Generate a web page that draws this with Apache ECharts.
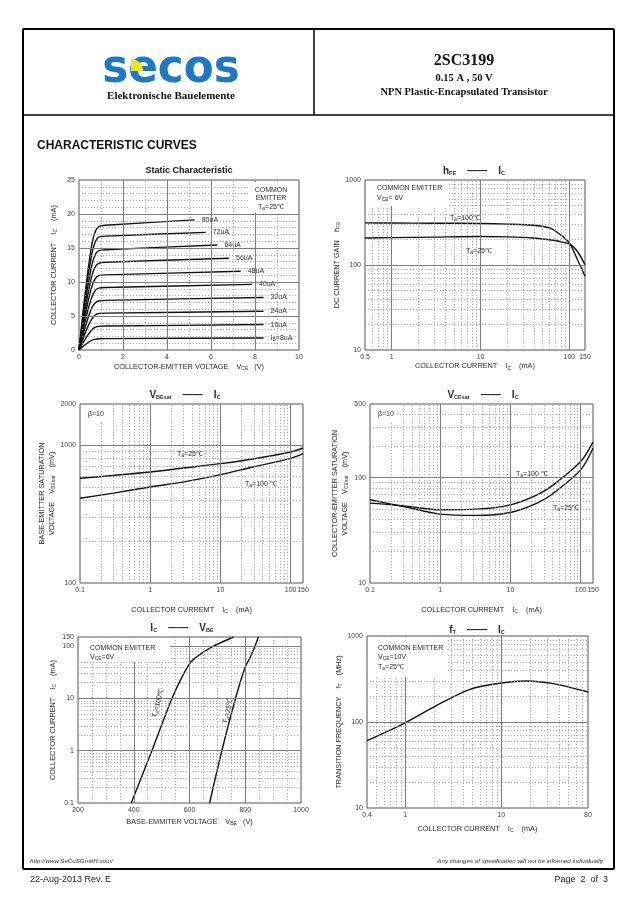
<!DOCTYPE html>
<html><head><meta charset="utf-8">
<script src="https://cdn.jsdelivr.net/npm/echarts@6/dist/echarts.min.js"></script>
<style>html,body{margin:0;padding:0;background:#fff}#c{width:638px;height:903px}</style>
</head><body><div id="c"></div>
<script>
const F = '"Liberation Sans", Arial, Helvetica, sans-serif';
const SF = '"Liberation Serif", "Times New Roman", serif';
const TC = '#2b2b2b';
const LC = '#111';

// ---------- Chart 1: Static characteristic (VCE in V, IC in mA) ----------
const scLabels = ['80uA','72uA','64uA','56uA','48uA','40uA','32uA','24uA','16uA','{n|I}{s|B}{n|=8uA}'];
const ib80 = [[0,0],[0.2,6.05],[0.4,11.55],[0.6,15.8],[0.75,17.5],[0.9,18.15],[1.2,18.35],[5.26,19.14]];
const ib72 = [[0,0],[0.2,5.5],[0.4,10.55],[0.6,14.4],[0.75,16.0],[0.9,16.6],[1.2,16.75],[5.76,17.3]];
const ib64 = [[0,0],[0.2,4.85],[0.4,9.3],[0.6,12.7],[0.75,14.1],[0.9,14.6],[1.2,14.75],[6.29,15.45]];
const ib56 = [[0,0],[0.2,4.25],[0.4,8.1],[0.6,11.1],[0.75,12.3],[0.9,12.75],[1.2,12.9],[6.82,13.5]];
const ib48 = [[0,0],[0.2,3.65],[0.4,6.95],[0.6,9.5],[0.75,10.55],[0.9,10.95],[1.2,11.05],[7.35,11.57]];
const ib40 = [[0,0],[0.2,3.05],[0.4,5.8],[0.6,7.9],[0.75,8.8],[0.9,9.1],[1.2,9.2],[7.86,9.65]];
const ib32 = [[0,0],[0.2,2.4],[0.4,4.6],[0.6,6.3],[0.75,6.95],[0.9,7.2],[1.2,7.3],[8.39,7.73]];
const ib24 = [[0,0],[0.2,1.8],[0.4,3.4],[0.6,4.65],[0.75,5.18],[0.9,5.37],[1.2,5.42],[8.39,5.7]];
const ib16 = [[0,0],[0.2,1.15],[0.4,2.2],[0.6,3.03],[0.75,3.36],[0.9,3.48],[1.2,3.52],[8.39,3.74]];
const ib8  = [[0,0],[0.2,0.55],[0.4,1.06],[0.6,1.44],[0.75,1.6],[0.9,1.66],[1.2,1.68],[8.39,1.77]];
const scCurves = [ib80, ib72, ib64, ib56, ib48, ib40, ib32, ib24, ib16, ib8];
const scXMajor = [2,4,6,8], scXMinor = [1,3,5,7,9];
const scYMajor = [5,10,15,20], scYMinor = [1,2,3,4,6,7,8,9,11,12,13,14,16,17,18,19,21,22,23,24];

// ---------- Chart 2: hFE vs IC ----------
const hfeXTicks = [0.5,1,10,100,150];
const hfeYTicks = [10,100,1000];
const hfe100 = [[0.5,313],[1,312],[3,310],[10,308],[20,303],[39,294],[60,273],[78,230],[100,182],[121,121],[150,74]];
const hfe25  = [[0.5,208],[1,210],[3,213],[10,216],[20,214],[39,208],[60,198],[80,188],[100,177],[121,148],[150,101]];
const hfeXMajor = [1,10,100], hfeXMinor = [0.6,0.7,0.8,0.9,2,3,4,5,6,7,8,9,20,30,40,50,60,70,80,90];
const hfeYMajor = [100], hfeYMinor = [20,30,40,50,60,70,80,90,200,300,400,500,600,700,800,900];

// ---------- Chart 3: VBEsat vs IC ----------
const vbeXTicks = [0.1,1,10,100,150];
const vbeYTicks = [100,1000,2000];
const vbe25  = [[0.1,577],[0.3,605],[1,641],[3,685],[10,737],[29,797],[100,896],[150,958]];
const vbe100 = [[0.1,413],[0.3,450],[1,499],[3.3,548],[10,613],[29,697],[100,806],[150,871]];
const satXMajor = [1,10,100], satXMinor = [0.2,0.3,0.4,0.5,0.6,0.7,0.8,0.9,2,3,4,5,6,7,8,9,20,30,40,50,60,70,80,90];
const vbeYMajor = [1000], vbeYMinor = [200,300,400,500,600,700,800,900];

// ---------- Chart 4: VCEsat vs IC ----------
const vceXTicks = [0.1,1,10,100,150];
const vceYTicks = [10,100,500];
const vce25  = [[0.1,61.6],[0.3,53.2],[1,45],[3.3,43.8],[10,46.7],[24,57.3],[41,71.2],[100,118.5],[150,190]];
const vce100 = [[0.1,57.3],[0.3,54],[1,49.5],[3.3,50.2],[10,55.2],[24,68.7],[41,85.4],[100,142],[150,217]];
const vceYMajor = [100], vceYMinor = [20,30,40,50,60,70,80,90,200,300,400];

// ---------- Chart 5: IC vs VBE ----------
const icYTicks = [0.1,1,10,100,150];
const icv100 = [[391,0.1],[465,1],[537,10],[596,43],[625,62],[686,100],[758,150]];
const icv25  = [[672,0.1],[716,1],[765,10],[800,40],[818,62],[835,100],[847,150]];
const icXMajor = [400,600,800], icXMinor = [250,300,350,450,500,550,650,700,750,850,900,950];
const icYMajor = [1,10,100], icYMinor = [0.2,0.3,0.4,0.5,0.6,0.7,0.8,0.9,2,3,4,5,6,7,8,9,20,30,40,50,60,70,80,90];

// ---------- Chart 6: fT vs IC ----------
const ftXTicks = [0.4,1,10,80];
const ftYTicks = [10,100,1000];
const ftCurve = [[0.4,60.7],[1,98],[2.13,156],[4.73,240],[10,284],[18.3,300],[34.7,279],[80,223]];
const ftXMajor = [1,10], ftXMinor = [0.5,0.6,0.7,0.8,0.9,2,3,4,5,6,7,8,9,20,30,40,50,60,70];
const ftYMajor = [100], ftYMinor = [20,30,40,50,60,70,80,90,200,300,400,500,600,700,800,900];

// ---------- helpers ----------
const nameRich = {
  n: {fontSize: 7.3, fontFamily: F, color: TC, lineHeight: 10},
  s: {fontSize: 5, fontFamily: F, color: TC, lineHeight: 10, padding: [4,0,0,0]}
};
const lblRich = {
  n: {fontSize: 7, fontFamily: F, color: TC},
  s: {fontSize: 5, fontFamily: F, color: TC, padding: [4,0,0,0]}
};
function gridSeries(idx, xMaj, xMin, yMaj, yMin) {
  const minorStyle = {color: '#9a9a9a', width: 0.8, type: [1.2, 1.8]};
  const majorStyle = {color: '#7d7d7d', width: 1, type: 'solid'};
  const d = [];
  xMin.forEach(v => d.push({xAxis: v, lineStyle: minorStyle}));
  yMin.forEach(v => d.push({yAxis: v, lineStyle: minorStyle}));
  xMaj.forEach(v => d.push({xAxis: v, lineStyle: majorStyle}));
  yMaj.forEach(v => d.push({yAxis: v, lineStyle: majorStyle}));
  return {type: 'line', xAxisIndex: idx, yAxisIndex: idx, data: [], z: 1, silent: true,
    markLine: {silent: true, symbol: ['none','none'], label: {show: false}, emphasis: {disabled: true}, animation: false, data: d}};
}
function curve(idx, data, extra) {
  return Object.assign({type: 'line', xAxisIndex: idx, yAxisIndex: idx, data: data, symbol: 'none',
    smooth: 0.3, z: 3, silent: true, lineStyle: {color: LC, width: 1.4}}, extra || {});
}
function ax(idx, type, min, max, o) {
  const a = {gridIndex: idx, type: type, min: min, max: max,
    axisLine: {show: false}, axisTick: {show: false}, splitLine: {show: false}, minorSplitLine: {show: false},
    axisLabel: {fontSize: 7, color: '#444', fontFamily: F, margin: 4, showMinLabel: true, showMaxLabel: true,
      formatter: v => String(+Number(v).toPrecision(6))},
    nameLocation: 'middle', nameTextStyle: {rich: nameRich}};
  if (o.interval) a.interval = o.interval;
  if (o.ticks) a.axisLabel.customValues = o.ticks;
  if (o.name) a.name = o.name;
  if (o.gap !== undefined) a.nameGap = o.gap;
  if (o.rotate) a.nameRotate = o.rotate;
  return a;
}

const grids = [
  {left: 79, top: 180, width: 220, height: 170},
  {left: 365, top: 180, width: 220, height: 170},
  {left: 80, top: 404, width: 223, height: 179},
  {left: 370, top: 404, width: 223, height: 179},
  {left: 78, top: 637, width: 223, height: 166},
  {left: 367, top: 636, width: 221, height: 172}
].map(g => Object.assign({show: true, borderColor: '#555', borderWidth: 1, backgroundColor: '#fff', containLabel: false}, g));

const xAxes = [
  ax(0, 'value', 0, 10, {interval: 2, name: '{n|COLLECTOR-EMITTER VOLTAGE    V}{s|CE}{n|   (V)}', gap: 12}),
  ax(1, 'log', 0.5, 150, {ticks: hfeXTicks, name: '{n|COLLECTOR CURRENT    I}{s|C}{n|    (mA)}', gap: 11}),
  ax(2, 'log', 0.1, 150, {ticks: vbeXTicks, name: '{n|COLLECTOR CURREMT    I}{s|C}{n|    (mA)}', gap: 22}),
  ax(3, 'log', 0.1, 150, {ticks: vceXTicks, name: '{n|COLLECTOR CURREMT    I}{s|C}{n|    (mA)}', gap: 22}),
  ax(4, 'value', 200, 1000, {interval: 200, name: '{n|BASE-EMMITER VOLTAGE    V}{s|BE}{n|   (V)}', gap: 14}),
  ax(5, 'log', 0.4, 80, {ticks: ftXTicks, name: '{n|COLLECTOR CURRENT    I}{s|C}{n|    (mA)}', gap: 16})
];
const yAxes = [
  ax(0, 'value', 0, 25, {interval: 5, name: '{n|COLLECTOR CURRENT    I}{s|C}{n|    (mA)}', gap: 20, rotate: 90}),
  ax(1, 'log', 10, 1000, {ticks: hfeYTicks, name: '{n|DC CURRENT GAIN    h}{s|FE}', gap: 18, rotate: 90}),
  ax(2, 'log', 100, 2000, {ticks: vbeYTicks, name: '{n|BASE-EMITTER SATURATION}\n{n|VOLTAGE    V}{s|BEsat}{n|    (mV)}', gap: 20, rotate: 90}),
  ax(3, 'log', 10, 500, {ticks: vceYTicks, name: '{n|COLLECTOR-EMITTER SATURATION}\n{n|VOLTAGE    V}{s|CEsat}{n|    (mV)}', gap: 20, rotate: 90}),
  ax(4, 'log', 0.1, 150, {ticks: icYTicks, name: '{n|COLLECTOR CURRENT    I}{s|C}{n|    (mA)}', gap: 20, rotate: 90}),
  ax(5, 'log', 10, 1000, {ticks: ftYTicks, name: '{n|TRANSITION FREQUENCY    f}{s|T}{n|    (MHz)}', gap: 19, rotate: 90})
];

const series = [
  gridSeries(0, scXMajor, scXMinor, scYMajor, scYMinor),
  gridSeries(1, hfeXMajor, hfeXMinor, hfeYMajor, hfeYMinor),
  gridSeries(2, satXMajor, satXMinor, vbeYMajor, vbeYMinor),
  gridSeries(3, satXMajor, satXMinor, vceYMajor, vceYMinor),
  gridSeries(4, icXMajor, icXMinor, icYMajor, icYMinor),
  gridSeries(5, ftXMajor, ftXMinor, ftYMajor, ftYMinor)
];
scCurves.forEach((c, i) => series.push(curve(0, c, {
  smooth: 0.2,
  endLabel: {show: true, formatter: scLabels[i], fontSize: 7, color: TC, fontFamily: F, distance: 7, rich: lblRich}
})));
series.push(curve(1, hfe100), curve(1, hfe25));
series.push(curve(2, vbe25), curve(2, vbe100));
series.push(curve(3, vce25), curve(3, vce100));
series.push(curve(4, icv100, {smooth: 0.2}), curve(4, icv25, {smooth: 0.2}));
series.push(curve(5, ftCurve));

// ---------- graphic (page furniture, titles, annotations) ----------
function T(x, y, text, o) {
  o = o || {};
  const st = {text: text, x: 0, y: 0, fill: o.fill || TC, fontFamily: o.family || F, fontSize: o.size || 7,
    fontWeight: o.weight || 'normal', fontStyle: o.style || 'normal',
    align: o.align || 'left', textAlign: o.align || 'left', verticalAlign: 'middle', textVerticalAlign: 'middle'};
  if (o.rich) st.rich = o.rich;
  const e = {type: 'text', x: x, y: y, z: 20, silent: true, style: st};
  if (o.rotation) e.rotation = o.rotation;
  if (o.scaleX) { e.scaleX = o.scaleX; }
  return e;
}
function R(x, y, w, h, fill) { return {type: 'rect', z: 15, silent: true, shape: {x: x, y: y, width: w, height: h}, style: {fill: fill || '#fff'}}; }
function L(x1, y1, x2, y2, w) { return {type: 'line', z: 30, silent: true, shape: {x1: x1, y1: y1, x2: x2, y2: y2}, style: {stroke: '#000', lineWidth: w || 1.5}}; }

const annRich = {
  n: {fontSize: 7, fontFamily: F, color: TC},
  s: {fontSize: 5, fontFamily: F, color: TC, padding: [4,0,0,0]}
};
const titleRich = {
  b: {fontSize: 10, fontFamily: F, fontWeight: 'bold', color: '#111'},
  s: {fontSize: 5.5, fontFamily: F, fontWeight: 'bold', color: '#111', padding: [5,0,0,0]}
};

const elements = [
  // page frame
  L(23, 29, 614, 29, 2), L(23, 29, 23, 869, 2), L(614, 29, 614, 869, 2), L(23, 869, 614, 869, 2),
  L(23, 115, 614, 115, 1.5), L(314, 29, 314, 115, 1.5),
  // logo
  T(171, 70, 'secos', {family: '"DejaVu Sans", sans-serif', size: 47, weight: 'bold', fill: '#1f78c1', align: 'center', scaleX: 0.93}),
  {type: 'sector', z: 25, silent: true, shape: {cx: 131, cy: 71, r: 12, r0: 0, startAngle: -Math.PI / 2, endAngle: 0, clockwise: true}, style: {fill: '#e8e42a'}},
  T(171, 96, 'Elektronische Bauelemente', {family: SF, size: 11, weight: 'bold', fill: '#111', align: 'center'}),
  T(464, 61, '2SC3199', {family: SF, size: 16, weight: 'bold', fill: '#111', align: 'center'}),
  T(464, 78, '0.15 A , 50 V', {family: SF, size: 10.5, weight: 'bold', fill: '#111', align: 'center'}),
  T(464, 92, 'NPN Plastic-Encapsulated Transistor', {family: SF, size: 10.5, weight: 'bold', fill: '#111', align: 'center'}),
  T(37, 146, 'CHARACTERISTIC CURVES', {size: 12, weight: 'bold', fill: '#111'}),
  // footer
  T(30, 861, 'http://www.SeCoSGmbH.com/', {size: 6.2, style: 'italic', fill: '#333'}),
  T(604, 861, 'Any changes of specification will not be informed individually.', {size: 6.2, style: 'italic', fill: '#333', align: 'right'}),
  T(30, 880, '22-Aug-2013 Rev. E', {size: 9, fill: '#222'}),
  T(608, 880, 'Page  2  of  3', {size: 9, fill: '#222', align: 'right'}),

  // chart 1
  T(189, 171, 'Static Characteristic', {size: 9, weight: 'bold', fill: '#111', align: 'center'}),
  R(248, 182, 49, 31),
  T(271, 190, 'COMMON', {align: 'center'}),
  T(271, 198, 'EMITTER', {align: 'center'}),
  T(271, 207, '{n|T}{s|a}{n|=25\u2103}', {align: 'center', rich: annRich}),

  // chart 2
  T(474, 171, '{b|h}{s|FE}{b|    \u2014\u2014    I}{s|C}', {align: 'center', rich: titleRich}),
  R(366, 181, 82, 25),
  T(377, 188, 'COMMON EMITTER'),
  T(377, 198, '{n|V}{s|CE}{n|= 6V}', {rich: annRich}),
  T(450, 218, '{n|T}{s|a}{n|=100\u2103}', {rich: annRich}),
  T(466, 251, '{n|T}{s|a}{n|=25\u2103}', {rich: annRich}),

  // chart 3
  T(185, 395, '{b|V}{s|BEsat}{b|    \u2014\u2014    I}{s|C}', {align: 'center', rich: titleRich}),
  R(81, 405, 24, 17),
  T(88, 414, '\u03b2=10'),
  T(177, 454, '{n|T}{s|a}{n|=25\u2103}', {rich: annRich}),
  T(245, 484, '{n|T}{s|a}{n|=100 \u2103}', {rich: annRich}),

  // chart 4
  T(483, 395, '{b|V}{s|CEsat}{b|    \u2014\u2014    I}{s|C}', {align: 'center', rich: titleRich}),
  R(371, 405, 24, 17),
  T(378, 414, '\u03b2=10'),
  T(516, 474, '{n|T}{s|a}{n|=100 \u2103}', {rich: annRich}),
  T(553, 508, '{n|T}{s|a}{n|=25\u2103}', {rich: annRich}),

  // chart 5
  T(182, 628, '{b|I}{s|C}{b|    \u2014\u2014    V}{s|BE}', {align: 'center', rich: titleRich}),
  R(79, 638, 91, 24),
  T(90, 648, 'COMMON EMITTER'),
  T(90, 657, '{n|V}{s|CE}{n|=6V}', {rich: annRich}),
  T(158, 703, '{n|T}{s|a}{n|=100\u2103}', {align: 'center', rich: annRich, rotation: 1.33}),
  T(228, 711, '{n|T}{s|a}{n|=25\u2103}', {align: 'center', rich: annRich, rotation: 1.33}),

  // chart 6
  T(477, 630, '{b|f}{s|T}{b|    \u2014\u2014    I}{s|C}', {align: 'center', rich: titleRich}),
  R(368, 637, 80, 40),
  T(378, 648, 'COMMON EMITTER'),
  T(378, 657, '{n|V}{s|CE}{n|=10V}', {rich: annRich}),
  T(378, 667, '{n|T}{s|a}{n|=25\u2103}', {rich: annRich})
];

const chart = echarts.init(document.getElementById('c'), null, {renderer: 'canvas'});
chart.setOption({
  animation: false,
  textStyle: {fontFamily: F},
  grid: grids,
  xAxis: xAxes,
  yAxis: yAxes,
  series: series,
  graphic: {elements: elements}
});
</script></body></html>
